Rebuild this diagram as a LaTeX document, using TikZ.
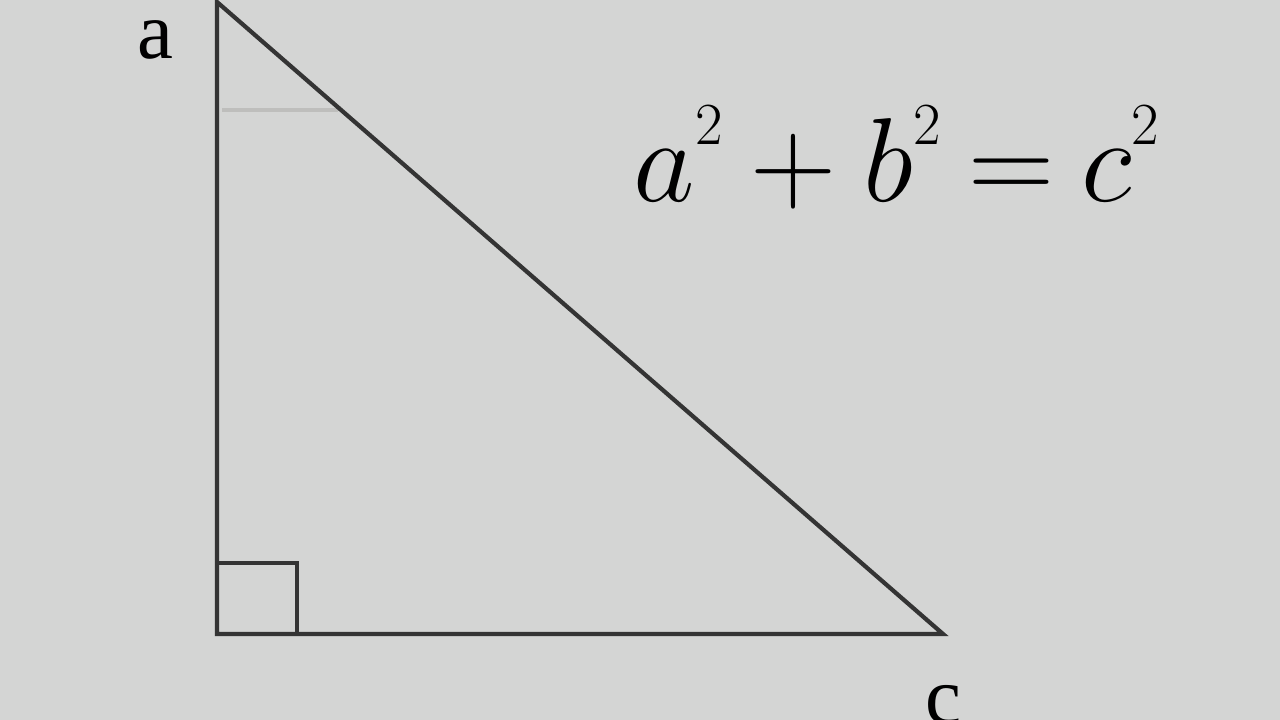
\RequirePackage{fix-cm}
\documentclass[tikz,border=0pt]{standalone}
\usepackage{fontspec}
\setmainfont{Liberation Serif}
\usetikzlibrary{positioning}
\definecolor{bggray}{RGB}{212,213,212}
\definecolor{edgegray}{RGB}{52,52,52}
\definecolor{faintgray}{RGB}{190,190,188}
\newcommand{\sqr}{^{\raisebox{0.12em}{$\scriptscriptstyle 2$}}}
\tikzset{
  edge/.style={draw=edgegray, line width=1.2pt, line join=miter},
  faint/.style={draw=faintgray, line width=1pt},
  vlabel/.style={text=black, inner sep=0, font=\fontsize{23}{28}\selectfont},
  formula/.style={text=black, inner sep=0, font=\fontsize{34}{41}\selectfont}
}
\begin{document}
\begin{tikzpicture}
      \fill[bggray](0, 0) rectangle (12.8, 7.2);
      \useasboundingbox (0, 0) rectangle (12.8, 7.2);

      \coordinate(top) at (2.17, 7.18);
      \coordinate(corner) at (2.17, 0.86);
      \coordinate(right) at (9.43, 0.86);
      \coordinate(sq) at (2.97, 1.57);

      \draw[faint](2.22, 6.10)--(3.38, 6.10);
      \draw[edge](top)--(corner)--(right)--cycle;
      \draw[edge](corner) rectangle (sq);

      \node[vlabel](la) at (1.55, 6.80){a};
      \node[vlabel, anchor=north](lc) at (9.43, 0.35){c};
      \node[formula, anchor=base west](eq) at (6.33, 5.18)
        {$\medmuskip=4mu\thickmuskip=4mu a\sqr+b\sqr=c\sqr$};
\end{tikzpicture}
\end{document}
